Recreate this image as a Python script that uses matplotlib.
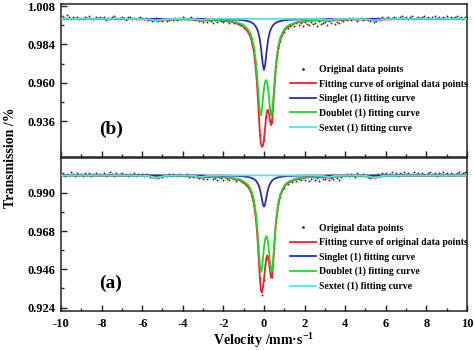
import numpy as np
import matplotlib
matplotlib.use("Agg")
import matplotlib.pyplot as plt
from matplotlib.lines import Line2D

plt.rcParams['font.family'] = ['Liberation Serif', 'DejaVu Serif']
plt.rcParams['font.weight'] = 'bold'
plt.rcParams['mathtext.fontset'] = 'custom'
plt.rcParams['mathtext.rm'] = 'Liberation Serif:bold'
plt.rcParams['mathtext.it'] = 'Liberation Serif:bold'
plt.rcParams['mathtext.bf'] = 'Liberation Serif:bold'

#==========================================================
# data
#==========================================================
# velocity grid of the fitted curves (mm/s)
vel = [-10, -7, -5.7, -5.3, -4.9, -4.0, -3.4, -3.1, -2.8, -2.2,
       -1.6, -1.2, -1.0, -0.8, -0.7, -0.6, -0.5, -0.4, -0.35, -0.3,
       -0.25, -0.2, -0.15, -0.1, -0.05, 0, 0.05, 0.1, 0.15, 0.2,
       0.25, 0.3, 0.35, 0.4, 0.45, 0.5, 0.55, 0.6, 0.7, 0.8,
       1.0, 1.2, 1.6, 2.2, 2.9, 3.2, 3.5, 4.4, 5.05, 5.45,
       5.85, 7, 10]

# panel (b)
fit_b = [0.9999, 0.9999, 0.9996, 0.9988, 0.9996, 0.9997, 0.9994, 0.9988, 0.9992, 0.9990,
         0.9981, 0.9965, 0.9950, 0.9921, 0.9897, 0.9858, 0.9795, 0.9684, 0.9602, 0.9498,
         0.9382, 0.9279, 0.9216, 0.9198, 0.9209, 0.9244, 0.9310, 0.9380, 0.9424, 0.9430,
         0.9402, 0.9358, 0.9335, 0.9364, 0.9444, 0.9543, 0.9635, 0.9710, 0.9810, 0.9868,
         0.9926, 0.9953, 0.9976, 0.9988, 0.9991, 0.9987, 0.9993, 0.9997, 0.9996, 0.9988,
         0.9996, 0.9999, 0.9999]
singlet_b = [1.0000, 1.0000, 1.0000, 1.0000, 1.0000, 0.9999, 0.9999, 0.9999, 0.9999, 0.9998,
             0.9996, 0.9994, 0.9991, 0.9986, 0.9982, 0.9976, 0.9967, 0.9951, 0.9939, 0.9922,
             0.9899, 0.9866, 0.9820, 0.9762, 0.9706, 0.9680, 0.9706, 0.9762, 0.9820, 0.9866,
             0.9899, 0.9922, 0.9939, 0.9951, 0.9960, 0.9967, 0.9972, 0.9976, 0.9982, 0.9986,
             0.9991, 0.9994, 0.9996, 0.9998, 0.9999, 0.9999, 0.9999, 1.0000, 1.0000, 1.0000,
             1.0000, 1.0000, 1.0000]
doublet_b = [1.0000, 0.9999, 0.9999, 0.9999, 0.9998, 0.9997, 0.9996, 0.9996, 0.9995, 0.9992,
             0.9984, 0.9972, 0.9959, 0.9935, 0.9914, 0.9882, 0.9828, 0.9733, 0.9663, 0.9576,
             0.9484, 0.9413, 0.9396, 0.9436, 0.9503, 0.9564, 0.9604, 0.9617, 0.9604, 0.9564,
             0.9503, 0.9436, 0.9396, 0.9413, 0.9484, 0.9576, 0.9663, 0.9733, 0.9828, 0.9882,
             0.9935, 0.9959, 0.9979, 0.9990, 0.9994, 0.9995, 0.9996, 0.9998, 0.9998, 0.9998,
             0.9999, 0.9999, 1.0000]
sextet_b = [1.0000, 1.0000, 0.9998, 0.9990, 0.9998, 1.0000, 0.9998, 0.9993, 0.9998, 1.0000,
            1.0000, 1.0000, 1.0000, 1.0000, 1.0000, 1.0000, 1.0000, 1.0000, 1.0000, 1.0000,
            1.0000, 1.0000, 1.0000, 1.0000, 1.0000, 1.0000, 1.0000, 1.0000, 1.0000, 1.0000,
            1.0000, 1.0000, 1.0000, 1.0000, 1.0000, 1.0000, 1.0000, 1.0000, 1.0000, 1.0000,
            1.0000, 1.0000, 1.0000, 1.0000, 0.9998, 0.9993, 0.9998, 1.0000, 0.9998, 0.9990,
            0.9998, 1.0000, 1.0000]

# panel (a)
fit_a = [1.0000, 0.9999, 0.9996, 0.9983, 0.9995, 0.9997, 0.9994, 0.9986, 0.9992, 0.9992,
         0.9984, 0.9972, 0.9960, 0.9937, 0.9918, 0.9888, 0.9838, 0.9753, 0.9687, 0.9603,
         0.9502, 0.9403, 0.9338, 0.9326, 0.9355, 0.9404, 0.9462, 0.9512, 0.9539, 0.9533,
         0.9499, 0.9449, 0.9411, 0.9422, 0.9488, 0.9578, 0.9665, 0.9735, 0.9829, 0.9883,
         0.9936, 0.9959, 0.9979, 0.9990, 0.9991, 0.9986, 0.9993, 0.9998, 0.9995, 0.9983,
         0.9996, 0.9999, 1.0000]
singlet_a = [1.0000, 1.0000, 1.0000, 1.0000, 1.0000, 1.0000, 1.0000, 1.0000, 0.9999, 0.9999,
             0.9998, 0.9996, 0.9994, 0.9991, 0.9989, 0.9985, 0.9979, 0.9970, 0.9962, 0.9952,
             0.9939, 0.9919, 0.9894, 0.9862, 0.9833, 0.9820, 0.9833, 0.9862, 0.9894, 0.9919,
             0.9939, 0.9952, 0.9962, 0.9970, 0.9975, 0.9979, 0.9983, 0.9985, 0.9989, 0.9991,
             0.9994, 0.9996, 0.9998, 0.9999, 0.9999, 1.0000, 1.0000, 1.0000, 1.0000, 1.0000,
             1.0000, 1.0000, 1.0000]
doublet_a = [1.0000, 0.9999, 0.9999, 0.9999, 0.9998, 0.9998, 0.9997, 0.9996, 0.9995, 0.9993,
             0.9986, 0.9976, 0.9965, 0.9946, 0.9929, 0.9903, 0.9859, 0.9783, 0.9725, 0.9650,
             0.9563, 0.9483, 0.9444, 0.9463, 0.9522, 0.9584, 0.9629, 0.9650, 0.9645, 0.9614,
             0.9561, 0.9496, 0.9449, 0.9453, 0.9512, 0.9599, 0.9682, 0.9750, 0.9841, 0.9892,
             0.9941, 0.9963, 0.9982, 0.9991, 0.9995, 0.9996, 0.9997, 0.9998, 0.9998, 0.9999,
             0.9999, 0.9999, 1.0000]
sextet_a = [1.0000, 1.0000, 0.9997, 0.9985, 0.9997, 1.0000, 0.9997, 0.9990, 0.9997, 1.0000,
            1.0000, 1.0000, 1.0000, 1.0000, 1.0000, 1.0000, 1.0000, 1.0000, 1.0000, 1.0000,
            1.0000, 1.0000, 1.0000, 1.0000, 1.0000, 1.0000, 1.0000, 1.0000, 1.0000, 1.0000,
            1.0000, 1.0000, 1.0000, 1.0000, 1.0000, 1.0000, 1.0000, 1.0000, 1.0000, 1.0000,
            1.0000, 1.0000, 1.0000, 1.0000, 0.9997, 0.9990, 0.9997, 1.0000, 0.9997, 0.9985,
            0.9997, 1.0000, 1.0000]

# measured points: one channel every 0.1 mm/s from -10 to 10,
# stored as offset from 1 in units of 1e-4
chan_vel = np.linspace(-10, 10, 201)
offs_b = [12, 18, 5, 21, 9, -3, 14, 6, 11, 2,
          8, -4, 10, 3, 15, 7, -2, 12, 4, 9,
          6, 13, -5, 8, 2, 11, 17, 3, -1, 7,
          10, 4, -6, 9, 14, 1, 6, -3, 8, 12,
          3, -2, 7, -9, 0, -12, -6, 5, -14, -8,
          -11, -3, -16, -7, 2, -10, 4, -5, 6, 1,
          9, 3, -4, 7, 11, -2, -8, 5, -12, -9,
          -18, -10, -22, -6, -15, -25, -9, -19, -4, -13,
          -20, -8, -16, -24, -11, -27, -19, -30, -38, -33,
          -58, -55, -85, -98, -150, -198, -322, -495, -730, -790,
          -760, -612, -578, -636, -645, -450, -298, -184, -140, -90,
          -80, -52, -60, -42, -31, -45, -24, -38, -29, -47,
          -22, -35, -41, -18, -30, -26, -44, -15, -33, -27,
          -20, -36, -12, -28, -8, -31, -17, -25, -6, -14,
          -2, -10, 4, -7, 6, -3, -12, 1, 8, -5,
          0, -9, -15, -4, -18, -11, 3, -6, 9, 2,
          5, 12, -1, 7, 14, 3, -4, 10, 16, 6,
          11, 2, 9, 15, -3, 8, 13, 4, 10, 18,
          7, 14, 1, 9, 16, 5, 11, -2, 12, 8,
          15, 6, 10, 3, 13, 19, 7, 12, 2, 9,
          11]
offs_a = [8, 15, -3, 10, 4, 19, 6, -5, 12, 2,
          9, -2, 14, 5, 11, -6, 7, 16, 1, 10,
          3, 12, -4, 8, 18, 6, -1, 11, 4, 9,
          13, 2, 7, -5, 10, 5, 15, -2, 8, 3,
          6, -3, 9, 1, -7, 4, -10, -2, -13, -6,
          -9, 2, -5, 7, -1, 10, 3, -4, 6, 0,
          5, -3, 8, -7, -2, -12, 1, -9, -15, -6,
          -18, -8, -22, -11, -4, -20, -14, -26, -9, -17,
          -24, -12, -19, -28, -15, -21, -30, -18, -26, -37,
          -44, -55, -68, -85, -118, -170, -240, -405, -590, -690,
          -600, -480, -472, -545, -585, -415, -270, -165, -125, -80,
          -70, -45, -52, -30, -38, -22, -33, -19, -27, -14,
          -25, -11, -30, -20, -8, -28, -16, -34, -12, -22,
          -18, -6, -26, -13, -21, -4, -15, -24, -9, 2,
          -5, 6, -2, 9, 1, -8, 12, 3, -4, 8,
          -3, -10, -16, -6, -12, 0, 7, -2, 11, 4,
          14, 2, 9, 17, 5, 11, -1, 13, 6, 19,
          8, 15, 3, 10, 20, 7, 12, 1, 16, 9,
          4, 13, 18, 6, 11, -2, 15, 8, 21, 10,
          12, 5, 16, 9, 2, 14, 19, 7, 11, 17,
          6]

labels = ["Original data points",
          "Fitting curve of original data points",
          "Singlet (1) fitting curve",
          "Doublet (1) fitting curve",
          "Sextet (1) fitting curve"]
yticks_b = [0.936, 0.960, 0.984, 1.008]
yticks_a = [0.924, 0.946, 0.968, 0.990]

#==========================================================
# plot
#==========================================================
c_red = "#e8232a"
c_blue = "#2b2fa6"
c_green = "#2ad12a"
c_cyan = "#4fe3e8"

fig = plt.figure(figsize=(4.74, 3.5), dpi=100)
ax_b = fig.add_axes([0.1287, 0.5514, 0.8565, 0.4386])
ax_a = fig.add_axes([0.1287, 0.1114, 0.8565, 0.4372])

panels = [(ax_b, offs_b, fit_b, singlet_b, doublet_b, sextet_b, "(b)",
           yticks_b, (0.9135, 1.0096), 0.597),
          (ax_a, offs_a, fit_a, singlet_a, doublet_a, sextet_a, "(a)",
           yticks_a, (0.922, 1.010), 0.570)]

for ax, offs, fit, sing, doub, sext, tag, yt, ylim, ytop in panels:
    pts = 1.0 + np.array(offs) * 1e-4
    ax.scatter(chan_vel, pts, s=2.0, color="#333333", linewidths=0, zorder=1)
    ax.plot(vel, fit, color=c_red, lw=1.3, zorder=3)
    ax.plot(vel, doub, color=c_green, lw=1.3, zorder=4)
    ax.plot(vel, sing, color=c_blue, lw=1.3, zorder=5)
    ax.plot(vel, sext, color=c_cyan, lw=1.3, zorder=6)
    ax.set_xlim(-10, 10)
    ax.set_ylim(ylim)
    ax.set_yticks(yt)
    ax.set_yticks([v + (yt[1] - yt[0]) / 2 for v in yt[:-1]], minor=True)
    ax.set_yticklabels(["%.3f" % v for v in yt], fontsize=9, fontweight="bold")
    ax.set_xticks(range(-10, 11, 2))
    ax.set_xticks(range(-9, 10, 2), minor=True)
    ax.tick_params(which="both", direction="in", top=False, right=False,
                   width=1.0, color="#222222")
    ax.tick_params(which="major", length=4, pad=4)
    ax.tick_params(which="minor", length=2)
    for sp in ax.spines.values():
        sp.set_linewidth(1.1)
        sp.set_color("#222222")
    ax.text(0.123, 0.18, tag, transform=ax.transAxes, fontsize=14,
            fontweight="bold", ha="center", va="center")

    handles = [Line2D([], [], ls="none", marker=".", ms=2, color="#333333"),
               Line2D([], [], color=c_red, lw=1.3),
               Line2D([], [], color=c_blue, lw=1.3),
               Line2D([], [], color=c_green, lw=1.3),
               Line2D([], [], color=c_cyan, lw=1.3)]
    ax.legend(handles, labels, loc="upper left", bbox_to_anchor=(0.565, ytop),
              frameon=False, prop={"weight": "bold", "size": 7},
              handlelength=2.6, handletextpad=0.3, labelspacing=0.53,
              borderpad=0, borderaxespad=0)

ax_b.set_xticklabels([])
ax_a.set_xticklabels(["%d" % v for v in range(-10, 11, 2)],
                     fontsize=9, fontweight="bold")
ax_a.tick_params(axis="x", which="major", pad=5)
ax_a.set_xlabel("Velocity /mm·s$^{-1}$", fontsize=10, fontweight="bold",
                labelpad=1)
fig.text(0.022, 0.55, "Transmission /%", rotation=90, fontsize=10,
         fontweight="bold", ha="center", va="center")

fig.savefig("out.png", dpi=100)
